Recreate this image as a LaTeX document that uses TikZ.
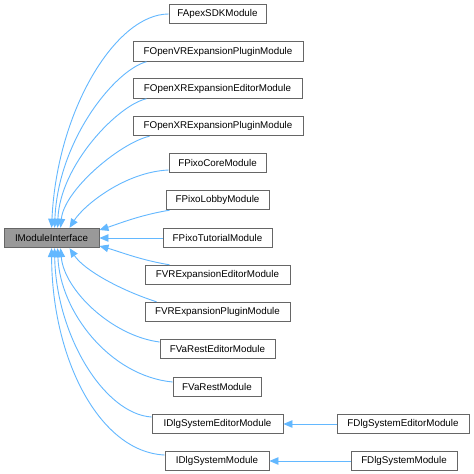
\documentclass[tikz,border=0pt]{standalone}
\usepackage{fontspec}
\setmainfont{Liberation Sans}
\usetikzlibrary{arrows.meta}
\definecolor{edgeblue}{HTML}{63B8FF}
\definecolor{boxborder}{HTML}{666666}
\definecolor{basefill}{HTML}{999999}
\tikzset{
  cls/.style={draw=boxborder, fill=white, line width=0.9pt, inner sep=0pt,
    minimum height=19.5pt, font=\fontsize{9.8}{12}\selectfont, text=black},
  basecls/.style={cls, fill=basefill},
  inh/.style={draw=edgeblue, line width=0.9pt,
    -{Triangle[length=9pt,width=7.5pt]}, color=edgeblue}
}
\begin{document}
\begin{tikzpicture}[x=1pt,y=-1pt]
\useasboundingbox (0,0) rectangle (474,474);
\fill[white] (0,0) rectangle (474,474);
% nodes
\node[basecls, minimum width=95pt] (imi) at (51.5,238) {IModuleInterface};
\node[cls, minimum width=97pt]  (apex)   at (217.5,14)   {FApexSDKModule};
\node[cls, minimum width=170pt] (ovr)    at (218,51.5)   {FOpenVRExpansionPluginModule};
\node[cls, minimum width=169pt] (oxe)    at (217.5,88.5) {FOpenXRExpansionEditorModule};
\node[cls, minimum width=170pt] (oxp)    at (218,126)    {FOpenXRExpansionPluginModule};
\node[cls, minimum width=97pt]  (pcore)  at (217.5,163)  {FPixoCoreModule};
\node[cls, minimum width=103pt] (plobby) at (217.5,200)  {FPixoLobbyModule};
\node[cls, minimum width=109pt] (ptut)   at (217.5,238)  {FPixoTutorialModule};
\node[cls, minimum width=145pt] (vre)    at (217.5,275)  {FVRExpansionEditorModule};
\node[cls, minimum width=145pt] (vrp)    at (217.5,312)  {FVRExpansionPluginModule};
\node[cls, minimum width=115pt] (vare)   at (217.5,349)  {FVaRestEditorModule};
\node[cls, minimum width=88pt]  (var)    at (217,387)    {FVaRestModule};
\node[cls, minimum width=131pt] (idse)   at (217.5,424)  {IDlgSystemEditorModule};
\node[cls, minimum width=104pt] (ids)    at (217,461)    {IDlgSystemModule};
\node[cls, minimum width=132pt] (fdse)   at (403,424)    {FDlgSystemEditorModule};
\node[cls, minimum width=106pt] (fds)    at (404,461)    {FDlgSystemModule};
% edges (child -> parent)
\draw[inh] (apex.west) .. controls (116,14) and (57,110) .. ([xshift=48pt]imi.north west);
\draw[inh] ([xshift=14pt]ovr.south west) .. controls (115,70) and (58,140) .. ([xshift=51pt]imi.north west);
\draw[inh] ([xshift=14pt]oxe.south west) .. controls (118,105) and (60,165) .. ([xshift=54pt]imi.north west);
\draw[inh] ([xshift=17pt]oxp.south west) .. controls (120,143) and (64,190) .. ([xshift=57pt]imi.north west);
\draw[inh] ([yshift=-7pt]pcore.west) .. controls (125,172) and (84,205) .. ([xshift=66pt]imi.north west);
\draw[inh] ([xshift=4pt]plobby.south west) .. controls (140,215) and (118,224) .. ([yshift=8pt]imi.east);
\draw[inh] (ptut.west) -- (imi.east);
\draw[inh] ([xshift=25pt]vre.north west) .. controls (140,260) and (118,251) .. ([yshift=-8pt]imi.east);
\draw[inh] ([xshift=12pt]vrp.north west) .. controls (120,290) and (84,270) .. ([xshift=66pt]imi.south west);
\draw[inh] ([yshift=7pt]vare.west) .. controls (112,336) and (64,290) .. ([xshift=57pt]imi.south west);
\draw[inh] ([yshift=5pt]var.west) .. controls (110,376) and (60,312) .. ([xshift=54pt]imi.south west);
\draw[inh] ([yshift=7pt]idse.west) .. controls (104,414) and (56,335) .. ([xshift=51pt]imi.south west);
\draw[inh] ([yshift=6pt]ids.west) .. controls (100,452) and (52,360) .. ([xshift=48pt]imi.south west);
\draw[inh] (fdse.west) -- (idse.east);
\draw[inh] (fds.west) -- (ids.east);
\end{tikzpicture}
\end{document}
